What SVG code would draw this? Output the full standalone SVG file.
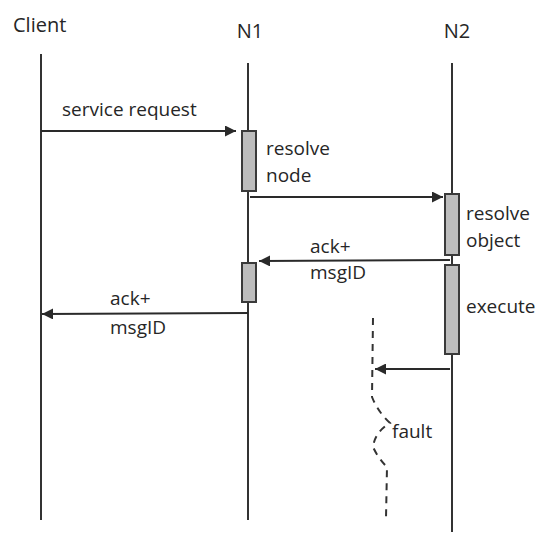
<svg xmlns="http://www.w3.org/2000/svg" width="550" height="544" viewBox="0 0 550 544">
<defs>
<style>
text{font-family:"Open Sans","Noto Sans","DejaVu Sans",sans-serif;font-size:19px;fill:#262626}
.hdr{font-size:20px}
.life{stroke:#333;stroke-width:2;fill:none}
.msg{stroke:#2a2a2a;stroke-width:2;fill:none;marker-end:url(#ah)}
.act{fill:#bdbdbd;stroke:#3a3a3a;stroke-width:2}
</style>
<marker id="ah" viewBox="0 0 10 10" refX="10" refY="5" markerWidth="12" markerHeight="11" markerUnits="userSpaceOnUse" orient="auto">
<path d="M0,0 L10,5 L0,10 z" fill="#2a2a2a"/>
</marker>
</defs>
<rect width="550" height="544" fill="#fff"/>
<g id="client">
<text class="hdr" x="13" y="32">Client</text>
<line class="life" x1="41" y1="54" x2="41" y2="520"/>
</g>
<g id="n1">
<text class="hdr" x="250" y="38" text-anchor="middle">N1</text>
<line class="life" x1="248" y1="63" x2="248" y2="520"/>
<rect class="act" x="242" y="131" width="14" height="60"/>
<rect class="act" x="242" y="263" width="14" height="39"/>
<text x="266" y="155">resolve</text>
<text x="266" y="182">node</text>
</g>
<g id="n2">
<text class="hdr" x="457" y="38" text-anchor="middle">N2</text>
<line class="life" x1="452" y1="63" x2="452" y2="532"/>
<rect class="act" x="445" y="194" width="14" height="61"/>
<rect class="act" x="445" y="265" width="14" height="89"/>
<text x="466" y="220">resolve</text>
<text x="466" y="247">object</text>
<text x="466" y="313">execute</text>
</g>
<g id="fault">
<path d="M373,318 L372,397 Q378,412 390,423 Q375,432 373,447 Q378,458 387,467 L386,518" fill="none" stroke="#333" stroke-width="2" stroke-dasharray="7,6"/>
<text x="392" y="438">fault</text>
</g>
<g id="connectors">
<line class="msg" x1="41" y1="131" x2="236" y2="131"/>
<text x="62" y="116">service request</text>
<line class="msg" x1="250" y1="197" x2="443" y2="197"/>
<line class="msg" x1="450" y1="260" x2="259" y2="261"/>
<text x="310" y="253">ack+</text>
<text x="310" y="279">msgID</text>
<line class="msg" x1="248" y1="313" x2="42" y2="314"/>
<text x="110" y="305">ack+</text>
<text x="110" y="334">msgID</text>
<line class="msg" x1="450" y1="369" x2="375" y2="369"/>
</g>
</svg>
